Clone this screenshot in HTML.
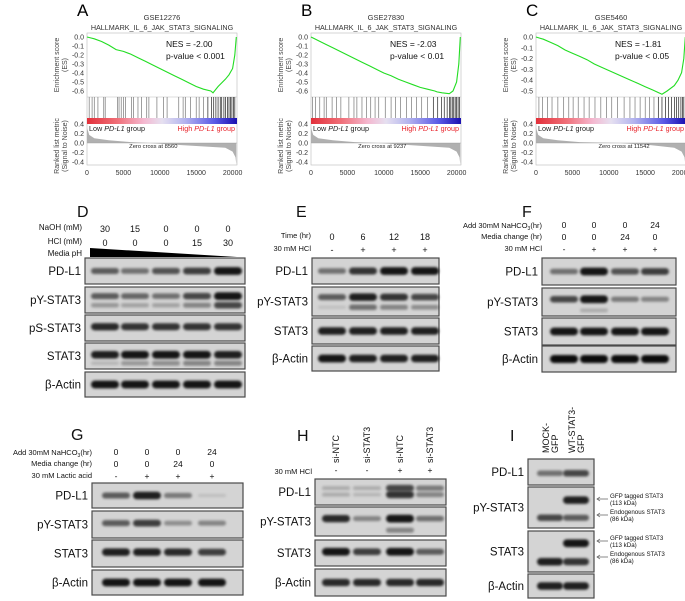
<!DOCTYPE html>
<html><head><meta charset="utf-8">
<style>
html,body{margin:0;padding:0;background:#fff;}
svg{display:block;font-family:"Liberation Sans",sans-serif;}
</style></head>
<body>
<svg id="fig" width="685" height="601" viewBox="0 0 685 601" xmlns="http://www.w3.org/2000/svg">
<defs>
<linearGradient id="cbar" x1="0" x2="1" y1="0" y2="0">
<stop offset="0" stop-color="#e2303a"/><stop offset="0.2" stop-color="#f06f78"/><stop offset="0.38" stop-color="#f4b8d0"/><stop offset="0.5" stop-color="#e6e0f0"/><stop offset="0.65" stop-color="#b4b4ee"/><stop offset="0.85" stop-color="#5a5ae6"/><stop offset="1" stop-color="#1a10b0"/>
</linearGradient>
<filter id="blur" x="-20%" y="-100%" width="140%" height="300%"><feGaussianBlur stdDeviation="1.3"/></filter>
</defs>
<g id="gsea"></g>
<g id="blots"></g>
</svg>
<script>
// ---------- GSEA data ----------
const esRanks = [0,500,1000,2000,3000,4000,5000,6000,7000,8000,9000,10000,11000,12000,13000,14000,15000,16000,17000,17300,18000,19000,19500,20000,20300,20500];
const esA = [0,-0.01,-0.02,-0.05,-0.09,-0.14,-0.16,-0.19,-0.23,-0.27,-0.31,-0.35,-0.39,-0.43,-0.47,-0.51,-0.55,-0.58,-0.6,-0.62,-0.55,-0.47,-0.42,-0.35,-0.2,0];
const esB = [0,-0.02,-0.04,-0.08,-0.12,-0.16,-0.2,-0.24,-0.28,-0.32,-0.36,-0.4,-0.43,-0.47,-0.5,-0.53,-0.56,-0.58,-0.6,-0.61,-0.62,-0.63,-0.6,-0.5,-0.3,0];
const esC = [0,-0.01,-0.02,-0.05,-0.08,-0.12,-0.15,-0.18,-0.21,-0.25,-0.28,-0.31,-0.34,-0.37,-0.4,-0.43,-0.46,-0.49,-0.52,-0.53,-0.5,-0.45,-0.4,-0.33,-0.2,0];
const hitsA = [300,700,1000,1500,2300,2500,4200,4400,4700,5000,5300,6100,6400,7000,7500,8200,8500,9600,10500,11000,12600,13200,13500,14200,15000,15400,16000,16600,17100,17400,17700,18000,18300,18500,18800,19000,19300,19500,19700,19900,20100,20300];
const hitsB = [200,600,1200,1800,2100,2900,3500,4100,5200,5900,6300,7000,7600,8200,8800,9300,10200,11000,11600,12300,13100,13800,14500,15200,16000,16800,17400,17900,18300,18700,19000,19200,19400,19600,19800,20000,20200,20400];
const hitsC = [400,900,1600,2200,3000,3800,4500,5100,5800,6600,7300,8100,8900,9700,10400,11200,12100,12900,13600,14300,15000,15600,16200,16800,17300,17800,18200,18600,19000,19300,19600,19900,20100,20300];
const metricRanks = [0,300,1000,3000,6000,15000,19000,20000,20400,20500];
const metricVals = [0.32,0.17,0.1,0.06,0.02,-0.04,-0.1,-0.18,-0.3,-0.45];
const zeroCross = [8560,9237,11542];
const esTicksAB = ["0.0","-0.1","-0.2","-0.3","-0.4","-0.5","-0.6"];
const esTicksC = ["0.0","-0.1","-0.2","-0.3","-0.4","-0.5"];
const metricTicks = ["0.4","0.2","0.0","-0.2","-0.4"];
const xTicks = [0,5000,10000,15000,20000];
const panelTitles = ["GSE12276","GSE27830","GSE5460"];
const panelLetters = ["A","B","C"];
const nesText = ["NES = -2.00","NES = -2.03","NES = -1.81"];
const pText = ["p-value < 0.001","p-value < 0.01","p-value < 0.05"];

const NS="http://www.w3.org/2000/svg";
function mk(tag, attrs, parent, text){
  const e=document.createElementNS(NS,tag);
  for(const k in attrs) e.setAttribute(k,attrs[k]);
  if(text!==undefined) e.textContent=text;
  parent.appendChild(e); return e;
}
const gG=document.getElementById('gsea');
const esSeries=[esA,esB,esC];
const hitSeries=[hitsA,hitsB,hitsC];
[0,224,449].forEach((dx,p)=>{
  const L=87+dx, R=237+dx, N=20600;
  const x=r=>L+(r/N)*(R-L);
  const esMin = p===2 ? -0.5 : -0.6;
  const yES=v=>37+(v/esMin)*54;
  const yM=v=>143-(v/0.4)*19;
  const g=mk('g',{},gG);
  
  
  let t=mk('text',{x:L-10,y:16,'font-size':17},g,panelLetters[p]);
   
  t=mk('text',{x:(L+R)/2,y:20,'font-size':7.5,'text-anchor':'middle',fill:'#333'},g,panelTitles[p]);
   
  t=mk('text',{x:(L+R)/2,y:30,'font-size':7.2,'text-anchor':'middle',fill:'#333'},g,"HALLMARK_IL_6_JAK_STAT3_SIGNALING");
   
  const fr=mk('rect',{x:L,y:33,width:R-L,height:132,fill:'none',stroke:'#bbb','stroke-width':0.6},g);
   
  mk('line',{x1:L,x2:R,y1:97,y2:97,stroke:'#bbb','stroke-width':0.6},g);
  const et = p===2?esTicksC:esTicksAB;
  et.forEach((lab,i)=>{
    const yy=yES(-0.1*i);
    const tk=mk('text',{x:L-3,y:yy+2.5,'font-size':7,'text-anchor':'end',fill:'#333'},g,lab);
     
  });
  const pts=esRanks.map((r,i)=>x(r).toFixed(1)+','+yES(esSeries[p][i]).toFixed(1)).join(' ');
  const pl=mk('polyline',{points:pts,fill:'none',stroke:'#22dd22','stroke-width':1.1},g);
   
  t=mk('text',{x:L+79,y:47,'font-size':8.5,fill:'#111'},g,nesText[p]);
   
  t=mk('text',{x:L+79,y:59,'font-size':8.5,fill:'#111'},g,pText[p]);
   
  hitSeries[p].forEach(r=>{
    const ln=mk('line',{x1:x(r),x2:x(r),y1:97,y2:118,stroke:r>16500?'#222':'#777','stroke-width':0.7},g);
     
  });
  const cb=mk('rect',{x:L,y:118,width:R-L,height:6,fill:'url(#cbar)'},g);
   
  t=mk('text',{x:L+2,y:131,'font-size':7.2,fill:'#222'},g);
  t.innerHTML='Low <tspan font-style="italic">PD-L1</tspan> group';
   
  t=mk('text',{x:R-2,y:131,'font-size':7.2,fill:'#e8222a','text-anchor':'end'},g);
  t.innerHTML='High <tspan font-style="italic">PD-L1</tspan> group';
   
  let d='M'+x(0)+','+yM(0);
  metricRanks.forEach((r,i)=>{
    let rr=r;
    if(i===5) rr=zeroCross[p]+ (15000-8560)*0.6;
    d+=' L'+x(rr).toFixed(1)+','+yM(metricVals[i]).toFixed(1);
    if(i===4) d+=' L'+x(zeroCross[p]).toFixed(1)+','+yM(0);
  });
  d+=' L'+x(20500)+','+yM(0)+' Z';
  const ar=mk('path',{d:d,fill:'#b0b0b0'},g);
   
  mk('line',{x1:L,x2:R,y1:yM(0),y2:yM(0),stroke:'#999','stroke-width':0.4},g);
  t=mk('text',{x:x(zeroCross[p])+4,y:yM(0)+5,'font-size':5.8,'text-anchor':'middle',fill:'#222'},g,'Zero cross at '+zeroCross[p]);
   
  metricTicks.forEach((lab,i)=>{
    const tk=mk('text',{x:L-3,y:yM(0.4-0.2*i)+2.5,'font-size':7,'text-anchor':'end',fill:'#333'},g,lab);
     
  });
  xTicks.forEach(v=>{
    const tk=mk('text',{x:x(v),y:175,'font-size':7,'text-anchor':'middle',fill:'#333'},g,String(v));
     
  });
  t=mk('text',{transform:`translate(${L-28},65) rotate(-90)`,'font-size':7,'text-anchor':'middle',fill:'#444'},g,'Enrichment score');
   
  mk('text',{transform:`translate(${L-20},65) rotate(-90)`,'font-size':7,'text-anchor':'middle',fill:'#444'},g,'(ES)');
  t=mk('text',{transform:`translate(${L-28},146) rotate(-90)`,'font-size':7,'text-anchor':'middle',fill:'#444'},g,'Ranked list metric');
   
  mk('text',{transform:`translate(${L-20},146) rotate(-90)`,'font-size':7,'text-anchor':'middle',fill:'#444'},g,'(Signal to Noise)');
});

// ---------- Western blot data (band intensities per lane) ----------
const blotD = [
 {y0:258,y1:284,label:"PD-L1",bands:[[0.5,[0.6,0.5,0.65,0.75,0.95]]]},
 {y0:287,y1:313,label:"pY-STAT3",bands:[[0.35,[0.6,0.55,0.5,0.7,0.95]],[0.7,[0.3,0.25,0.25,0.4,0.7]]]},
 {y0:315,y1:341,label:"pS-STAT3",bands:[[0.45,[0.85,0.8,0.8,0.8,0.8]]]},
 {y0:343,y1:369,label:"STAT3",bands:[[0.45,[0.9,0.95,0.95,0.95,0.9]],[0.78,[0.15,0.3,0.35,0.4,0.4]]]},
 {y0:372,y1:397,label:"β-Actin",bands:[[0.5,[0.95,0.95,0.95,0.95,0.95]]]}];
const blotE = [
 {y0:258,y1:284,label:"PD-L1",bands:[[0.5,[0.5,0.8,0.95,0.95]]]},
 {y0:287,y1:316,label:"pY-STAT3",bands:[[0.35,[0.6,0.9,0.8,0.7]],[0.7,[0.1,0.5,0.4,0.35]]]},
 {y0:318,y1:344,label:"STAT3",bands:[[0.5,[0.9,0.9,0.9,0.9]]]},
 {y0:346,y1:371,label:"β-Actin",bands:[[0.5,[0.95,0.9,0.9,0.9]]]}];
const blotF = [
 {y0:258,y1:285,label:"PD-L1",bands:[[0.5,[0.5,0.95,0.65,0.75]]]},
 {y0:288,y1:316,label:"pY-STAT3",bands:[[0.4,[0.7,0.95,0.45,0.4]],[0.8,[0,0.2,0,0]]]},
 {y0:318,y1:345,label:"STAT3",bands:[[0.5,[0.95,0.95,0.95,0.95]]]},
 {y0:346,y1:372,label:"β-Actin",bands:[[0.5,[1,1,1,1]]]}];
const blotG = [
 {y0:483,y1:508,label:"PD-L1",bands:[[0.5,[0.6,0.9,0.45,0.1]]]},
 {y0:511,y1:538,label:"pY-STAT3",bands:[[0.45,[0.6,0.75,0.35,0.4]]]},
 {y0:540,y1:567,label:"STAT3",bands:[[0.45,[0.9,0.9,0.85,0.75]]]},
 {y0:570,y1:595,label:"β-Actin",bands:[[0.5,[0.95,0.95,0.95,0.95]]]}];
const blotH = [
 {y0:479,y1:505,label:"PD-L1",bands:[[0.35,[0.2,0.2,0.7,0.45]],[0.6,[0.2,0.15,0.8,0.4]]]},
 {y0:507,y1:536,label:"pY-STAT3",bands:[[0.4,[0.85,0.4,0.95,0.5]],[0.8,[0,0,0.4,0]]]},
 {y0:540,y1:566,label:"STAT3",bands:[[0.45,[0.95,0.75,0.95,0.6]]]},
 {y0:569,y1:596,label:"β-Actin",bands:[[0.5,[0.85,0.85,0.85,0.85]]]}];
const blotI = [
 {y0:459,y1:485,label:"PD-L1",bands:[[0.55,[0.5,0.7]]]},
 {y0:487,y1:528,label:"pY-STAT3",bands:[[0.32,[0,0.9]],[0.75,[0.7,0.6]]]},
 {y0:531,y1:572,label:"STAT3",bands:[[0.3,[0,0.95]],[0.75,[0.9,0.8]]]},
 {y0:574,y1:598,label:"β-Actin",bands:[[0.5,[0.9,0.9]]]}];
const lanesD=[105,135,166,197,228];
const lanesE=[332,363,394,425];
const lanesF=[564,594,625,655];
const lanesG=[116,147,178,212];
const lanesH=[336,367,400,430];
const lanesI=[550,576];

const gB=document.getElementById('blots');
function blot(name,x0,x1,lanes,rows,bw){
  const g=mk('g',{},gB);
  
  
  rows.forEach(r=>{
    const rect=mk('rect',{x:x0,y:r.y0,width:x1-x0,height:r.y1-r.y0,fill:'#d4d4d4',stroke:'#4a4a4a','stroke-width':1.2},g);
    
    
    const lb=mk('text',{x:x0-4,y:(r.y0+r.y1)/2+4,'font-size':11.5,'text-anchor':'end',fill:'#111'},g,r.label);
    
    
    r.bands.forEach(b=>{
      b[1].forEach((v,i)=>{
        if(v<=0) return;
        const cy=r.y0+(r.y1-r.y0)*b[0];
        const h=3+5*v;
        const e=mk('rect',{x:lanes[i]-bw/2,y:cy-h/2,width:bw,height:h,rx:h/2,fill:'#000','fill-opacity':Math.min(1,v*0.95),filter:'url(#blur)'},g);
        
        
      });
    });
  });
  return g;
}
blot('blot-d',85,245,lanesD,blotD,28);
blot('blot-e',312,439,lanesE,blotE,28);
blot('blot-f',542,676,lanesF,blotF,28);
blot('blot-g',92,243,lanesG,blotG,28);
blot('blot-h',315,446,lanesH,blotH,28);
blot('blot-i',528,594,lanesI,blotI,26);

function txt(x,y,s,size,anchor,name,html){
  const t=mk('text',{x:x,y:y,'font-size':size,'text-anchor':anchor||'start',fill:'#111'},gB);
  if(html) t.innerHTML=s; else t.textContent=s;
  
  
  return t;
}
txt(77,217,'D',16,'start','panel-letter-d');
txt(82,230,'NaOH (mM)',8,'end','naoh-label');
txt(82,244,'HCl (mM)',8,'end','hcl-label');
txt(82,256,'Media pH',8,'end','media-ph-label');
["30","15","0","0","0"].forEach((v,i)=>txt(lanesD[i],232,v,9,'middle','naoh-value'));
["0","0","0","15","30"].forEach((v,i)=>txt(lanesD[i],246,v,9,'middle','hcl-value'));
const tri=mk('polygon',{points:'90,248 237,257 90,257',fill:'#000'},gB);
 
txt(296,217,'E',16,'start','panel-letter-e');
txt(311,238,'Time (hr)',7.5,'end','time-label');
txt(311,251,'30 mM HCl',7.5,'end','hcl-label');
["0","6","12","18"].forEach((v,i)=>txt(lanesE[i],240,v,9,'middle','time-value'));
["-","+","+","+"].forEach((v,i)=>txt(lanesE[i],253,v,9,'middle','hcl-sign'));
txt(522,217,'F',16,'start','panel-letter-f');
txt(542,228,'Add 30mM NaHCO<tspan font-size="5" dy="2">3</tspan><tspan dy="-2">(hr)</tspan>',7.5,'end','nahco3-label',true);
txt(542,239,'Media change (hr)',7.5,'end','media-change-label');
txt(542,251,'30 mM HCl',7.5,'end','hcl-label');
["0","0","0","24"].forEach((v,i)=>txt(lanesF[i],228,v,8.5,'middle','nahco3-value'));
["0","0","24","0"].forEach((v,i)=>txt(lanesF[i],240,v,8.5,'middle','media-change-value'));
["-","+","+","+"].forEach((v,i)=>txt(lanesF[i],252,v,8.5,'middle','hcl-sign'));
txt(71,440,'G',16,'start','panel-letter-g');
txt(92,455,'Add 30mM NaHCO<tspan font-size="5" dy="2">3</tspan><tspan dy="-2">(hr)</tspan>',7.5,'end','nahco3-label',true);
txt(92,466,'Media change (hr)',7.5,'end','media-change-label');
txt(92,478,'30 mM Lactic acid',7.5,'end','lactic-acid-label');
["0","0","0","24"].forEach((v,i)=>txt(lanesG[i],455,v,8.5,'middle','nahco3-value'));
["0","0","24","0"].forEach((v,i)=>txt(lanesG[i],467,v,8.5,'middle','media-change-value'));
["-","+","+","+"].forEach((v,i)=>txt(lanesG[i],479,v,8.5,'middle','lactic-sign'));
txt(297,441,'H',16,'start','panel-letter-h');
txt(312,474,'30 mM HCl',7.5,'end','hcl-label');
["si-NTC","si-STAT3","si-NTC","si-STAT3"].forEach((v,i)=>{
  const t=mk('text',{transform:`translate(${lanesH[i]+3},463) rotate(-90)`,'font-size':9,fill:'#111'},gB,v);
  
  
});
["-","-","+","+"].forEach((v,i)=>txt(lanesH[i],473,v,8.5,'middle','hcl-sign'));
txt(510,441,'I',16,'start','panel-letter-i');
[["MOCK-","GFP"],["WT-STAT3-","GFP"]].forEach((v,i)=>{
  const t1=mk('text',{transform:`translate(${lanesI[i]-1},453) rotate(-90)`,'font-size':9,fill:'#111'},gB,v[0]);
  
  
  const t2=mk('text',{transform:`translate(${lanesI[i]+8},453) rotate(-90)`,'font-size':9,fill:'#111'},gB,v[1]);
  
  
});
const anns=[[499,'GFP tagged STAT3','(113 kDa)'],[515,'Endogenous STAT3','(86 kDa)'],[541,'GFP tagged STAT3','(113 kDa)'],[557,'Endogenous STAT3','(86 kDa)']];
anns.forEach(a=>{
  const l=mk('line',{x1:597,x2:608,y1:a[0],y2:a[0],stroke:'#555','stroke-width':0.7},gB);
   
  mk('polyline',{points:`600,${a[0]-2} 597,${a[0]} 600,${a[0]+2}`,fill:'none',stroke:'#555','stroke-width':0.7},gB);
  txt(610,a[0]-1,a[1],6.2,'start','annotation-text');
  txt(610,a[0]+6,a[2],6.2,'start','annotation-text');
});
</script>
</body></html>
